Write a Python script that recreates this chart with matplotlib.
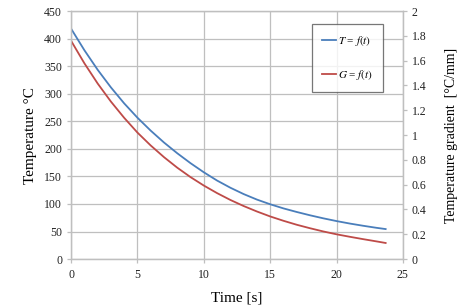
import matplotlib
matplotlib.use("Agg")
import matplotlib.pyplot as plt

# values
time_s = [0, 1, 2, 3, 4, 5, 6, 7, 8, 9, 10, 11, 12, 13, 14, 15,
          16, 17, 18, 19, 20, 21, 22, 23, 23.7]
temperature = [418, 379, 343.5, 311.5, 282.5, 256.5, 233, 211.5, 192, 174,
               157.5, 142.5, 129.5, 118, 108, 99.5, 92, 85.5, 79.5, 74, 69,
               64.5, 60.5, 56.8, 54.5]
gradient = [1.76, 1.579, 1.416, 1.27, 1.139, 1.02, 0.916, 0.822, 0.737, 0.661,
            0.593, 0.532, 0.477, 0.428, 0.384, 0.344, 0.309, 0.277, 0.249,
            0.223, 0.2, 0.18, 0.161, 0.143, 0.13]

x_ticks = [0, 5, 10, 15, 20, 25]
left_ticks = list(range(0, 451, 50))
right_ticks = [0, 0.2, 0.4, 0.6, 0.8, 1, 1.2, 1.4, 1.6, 1.8, 2]

BLUE = "#4a7ebb"
RED = "#be4b48"
GRID = "#bfbfbf"

plt.rcParams["font.family"] = ["Liberation Serif", "DejaVu Serif"]
plt.rcParams["mathtext.fontset"] = "stix"

fig = plt.figure(figsize=(4.74, 3.07), dpi=100)
ax = fig.add_axes([0.150, 0.156, 0.700, 0.808])
ax2 = ax.twinx()

l1, = ax.plot(time_s, temperature, color=BLUE, lw=1.3, label="$T$ = $f(t)$")
l2, = ax2.plot(time_s, gradient, color=RED, lw=1.3, label="$G$ = $f(t)$")

ax.set_xlim(0, 25)
ax.set_ylim(0, 450)
ax2.set_ylim(0, 2)
ax.set_xticks(x_ticks)
ax.set_yticks(left_ticks)
ax2.set_yticks(right_ticks)
ax2.set_yticklabels([f"{v:g}" for v in right_ticks])

ax.grid(True, color=GRID, lw=0.9)
ax.set_axisbelow(True)
for a in (ax, ax2):
    for s in a.spines.values():
        s.set_color(GRID)
        s.set_linewidth(0.9)
    a.tick_params(colors="#222222", labelsize=8.5, length=3, width=0.9)
ax.tick_params(axis="both", color=GRID)
ax2.tick_params(axis="y", color=GRID)
ax.tick_params(axis="x", pad=4)

ax.set_xlabel("Time [s]", fontsize=11, labelpad=8)
ax.set_ylabel("Temperature \u00b0C", fontsize=11, labelpad=5)
ax2.set_ylabel("Temperature gradient  [\u00b0C/mm]", fontsize=10, labelpad=13)

leg = ax.legend(handles=[l1, l2], loc="upper right",
                bbox_to_anchor=(0.94, 0.948), fontsize=8, frameon=True,
                fancybox=False, edgecolor="#555555", handlelength=1.3,
                handletextpad=0.15, labelspacing=1.8, borderpad=0.9,
                borderaxespad=0)
leg.get_frame().set_linewidth(0.9)

fig.savefig("out.png", dpi=100)
